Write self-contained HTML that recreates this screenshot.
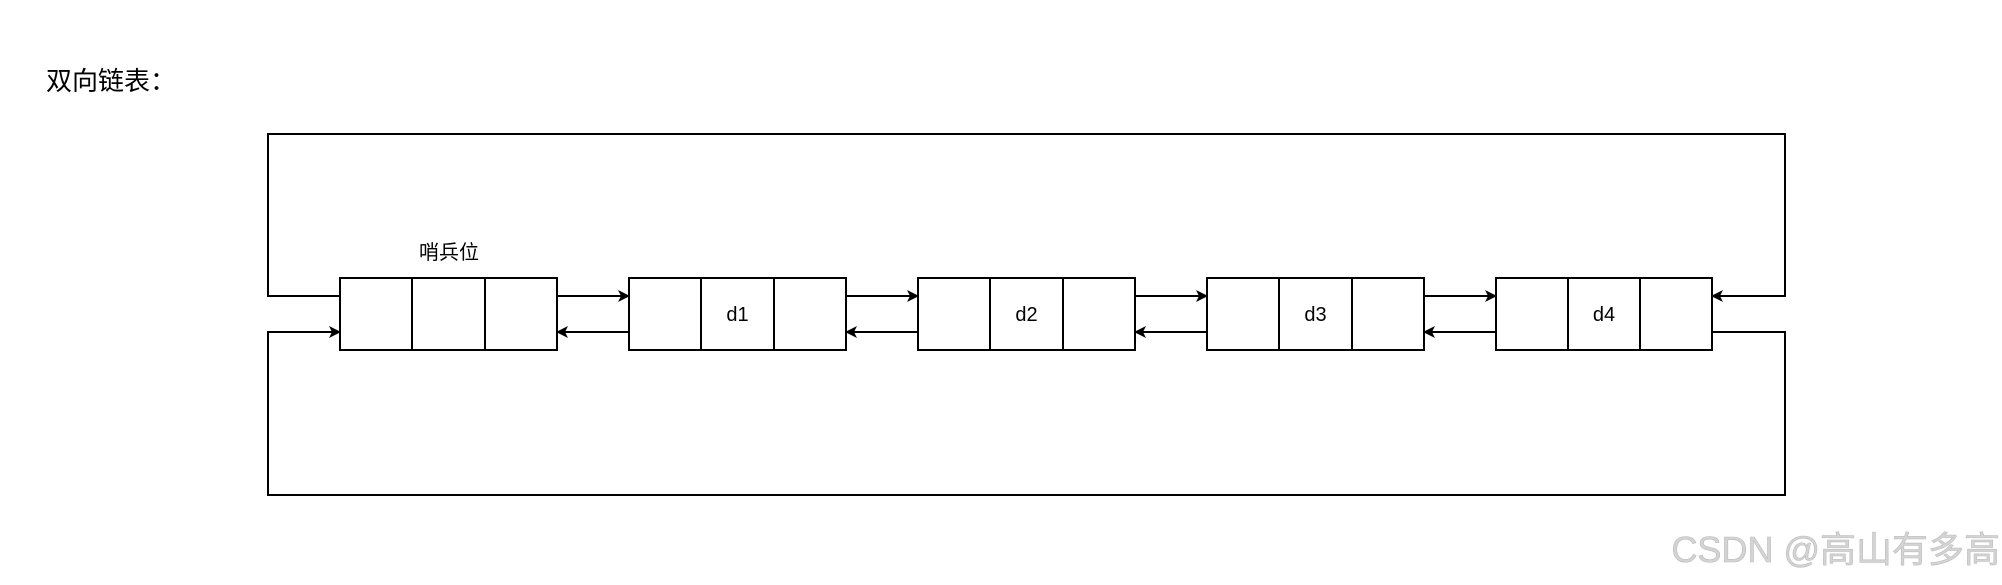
<!DOCTYPE html>
<html><head><meta charset="utf-8"><style>
html,body{margin:0;padding:0;background:#fff;}
body{width:2002px;height:585px;overflow:hidden;position:relative;}
svg{position:absolute;left:0;top:0;}
</style></head><body>
<svg width="2002" height="585" viewBox="0 0 2002 585" xmlns="http://www.w3.org/2000/svg">
<defs>
<marker id="a" markerWidth="12" markerHeight="12" refX="11" refY="6" orient="auto" markerUnits="userSpaceOnUse">
<path d="M0,0 L12,6 L0,12 L3,6 Z" fill="#000"/>
</marker>
</defs>
<text x="46" y="90" font-family="'Liberation Sans','Noto Sans CJK SC',sans-serif" font-size="26" fill="#000">双向链表：</text>
<text x="449" y="259" text-anchor="middle" font-family="'Liberation Sans','Noto Sans CJK SC',sans-serif" font-size="20" fill="#000">哨兵位</text>
<g stroke="#000" stroke-width="2" fill="none">
<!-- boxes -->
<rect x="340" y="278" width="217" height="72" fill="#fff"/>
<line x1="412" y1="278" x2="412" y2="350"/><line x1="485" y1="278" x2="485" y2="350"/>
<rect x="629" y="278" width="217" height="72" fill="#fff"/>
<line x1="701" y1="278" x2="701" y2="350"/><line x1="774" y1="278" x2="774" y2="350"/>
<rect x="918" y="278" width="217" height="72" fill="#fff"/>
<line x1="990" y1="278" x2="990" y2="350"/><line x1="1063" y1="278" x2="1063" y2="350"/>
<rect x="1207" y="278" width="217" height="72" fill="#fff"/>
<line x1="1279" y1="278" x2="1279" y2="350"/><line x1="1352" y1="278" x2="1352" y2="350"/>
<rect x="1496" y="278" width="216" height="72" fill="#fff"/>
<line x1="1568" y1="278" x2="1568" y2="350"/><line x1="1640" y1="278" x2="1640" y2="350"/>
<!-- links -->
<line x1="557" y1="296" x2="629" y2="296" marker-end="url(#a)"/>
<line x1="629" y1="332" x2="557" y2="332" marker-end="url(#a)"/>
<line x1="846" y1="296" x2="918" y2="296" marker-end="url(#a)"/>
<line x1="918" y1="332" x2="846" y2="332" marker-end="url(#a)"/>
<line x1="1135" y1="296" x2="1207" y2="296" marker-end="url(#a)"/>
<line x1="1207" y1="332" x2="1135" y2="332" marker-end="url(#a)"/>
<line x1="1424" y1="296" x2="1496" y2="296" marker-end="url(#a)"/>
<line x1="1496" y1="332" x2="1424" y2="332" marker-end="url(#a)"/>
<!-- loops -->
<polyline points="340,296 268,296 268,134 1785,134 1785,296 1712,296" marker-end="url(#a)"/>
<polyline points="1712,332 1785,332 1785,495 268,495 268,332 340,332" marker-end="url(#a)"/>
</g>
<g font-family="'Liberation Sans',sans-serif" font-size="20" text-anchor="middle" fill="#000">
<text x="737.5" y="321">d1</text>
<text x="1026.5" y="321">d2</text>
<text x="1315.5" y="321">d3</text>
<text x="1604" y="321">d4</text>
</g>
<text x="2000" y="562" text-anchor="end" font-family="'Liberation Sans','Noto Sans CJK SC',sans-serif" font-size="36" fill="#d4d4d4" stroke="#bbb" stroke-width="0.6">CSDN @高山有多高</text>
</svg>
</body></html>
